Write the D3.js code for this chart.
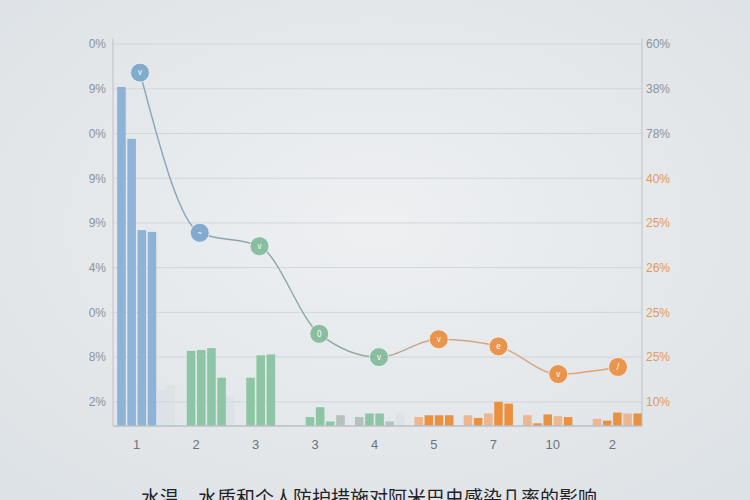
<!DOCTYPE html>
<html>
<head>
<meta charset="utf-8">
<script src="https://cdn.jsdelivr.net/npm/d3@7"></script>
<style>
  html, body { margin: 0; padding: 0; background: #e4e8eb; }
  svg { display: block; font-family: "Noto Sans", "Noto Sans CJK SC", sans-serif; }
</style>
</head>
<body>
<div id="chart"></div>
<script>
// categories along the x axis (labels as printed)
var categories = ["1", "2", "3", "3", "4", "5", "7", "10", "2"];
var categoryHue = ["blue", "green", "green", "green", "green", "orange", "orange", "orange", "orange"];

// y ticks (same positions on both sides), labels top to bottom
var tickValues = [45, 40, 35, 30, 25, 20, 15, 10, 5];
var leftTickLabels = ["0%", "9%", "0%", "9%", "9%", "4%", "0%", "8%", "2%"];
var rightTickLabels = ["60%", "38%", "78%", "40%", "25%", "26%", "25%", "25%", "10%"];

// bars: six slots per category, null = empty slot
var barValues = [
    [null, 40.2, 34.4, 24.2, 24.0, 6.3],
    [6.9, null, 10.7, 10.8, 11.0, 7.7],
    [5.6, null, 7.7, 10.2, 10.3, null],
    [null, null, 3.3, 4.4, 2.8, 3.5],
    [null, 3.3, 3.7, 3.7, 2.8, 3.8],
    [null, 3.3, 3.5, 3.5, 3.5, null],
    [3.5, 3.2, 3.7, 5.0, 4.8, null],
    [3.5, 2.6, 3.6, 3.4, 3.3, null],
    [null, 3.1, 2.9, 3.8, 3.7, 3.7]
];
// tone of each bar: m = main, l = light, g = grey, f = faded
var barTones = [
    ["", "m", "m", "m", "m", "f"],
    ["f", "", "m", "m", "m", "m"],
    ["f", "", "m", "m", "m", ""],
    ["", "", "m", "m", "m", "g"],
    ["", "g", "m", "m", "g", "f"],
    ["", "l", "m", "m", "m", ""],
    ["l", "m", "l", "m", "m", ""],
    ["l", "m", "m", "l", "m", ""],
    ["", "l", "m", "m", "l", "m"]
];

// line (right axis)
var lineValues = [41.8, 23.9, 22.4, 12.6, 10.0, 12.0, 11.2, 8.1, 8.9];
var pointHue = ["blue", "blue", "green", "green", "green", "orange", "orange", "orange", "orange"];
var pointMarks = ["v", "~", "v", "0", "v", "v", "e", "v", "/"];

var title = "水温、水质和个人防护措施对阿米巴虫感染几率的影响";

var width = 750, height = 500;
var plotLeft = 113, plotRight = 642, plotTop = 44, plotBottom = 426;

var palette = {
    blue:   { m: "#8fb3d7", l: "#b7cfe6", g: "#b3c0c9", f: "#d2dce4" },
    green:  { m: "#8dc6a4", l: "#b5dcc4", g: "#b6c0bc", f: "#d3dee0" },
    orange: { m: "#ea9140", l: "#ecb68e", g: "#c9b9ab", f: "#e3d8d0" }
};
var circleColor = { blue: "#7ea8cc", green: "#84bc9c", orange: "#eb9146" };

var svg = d3.select("#chart").append("svg")
    .attr("width", width)
    .attr("height", height);

var defs = svg.append("defs");
var bg = defs.append("radialGradient").attr("id", "bg")
    .attr("cx", "50%").attr("cy", "45%").attr("r", "70%");
bg.append("stop").attr("offset", "0%").attr("stop-color", "#eef0f2");
bg.append("stop").attr("offset", "100%").attr("stop-color", "#dde2e6");

var lineGrad = defs.append("linearGradient").attr("id", "lineGrad")
    .attr("gradientUnits", "userSpaceOnUse")
    .attr("x1", plotLeft).attr("x2", plotRight).attr("y1", 0).attr("y2", 0);
lineGrad.append("stop").attr("offset", "0%").attr("stop-color", "#86a3bb");
lineGrad.append("stop").attr("offset", "45%").attr("stop-color", "#8fa8a0");
lineGrad.append("stop").attr("offset", "58%").attr("stop-color", "#c9a88e");
lineGrad.append("stop").attr("offset", "100%").attr("stop-color", "#eba06a");

svg.append("rect").attr("width", width).attr("height", height).attr("fill", "url(#bg)");

/* Scales */
var y = d3.scaleLinear().domain([2.3, 45]).range([plotBottom, plotTop]);
var yRight = d3.scaleLinear().domain([2.3, 45]).range([plotBottom, plotTop]);

var x = d3.scaleBand().domain(d3.range(categories.length)).range([107, plotRight]).padding(0);
var xSlot = d3.scaleBand().domain(d3.range(6)).range([0, x.bandwidth()]).paddingInner(0.16);
var xLine = d3.scalePoint().domain(d3.range(categories.length)).range([140, 618]);

/* Grid */
svg.append("g").attr("class", "grid")
    .selectAll("line")
    .data(tickValues).enter()
    .append("line")
    .attr("x1", plotLeft).attr("x2", plotRight)
    .attr("y1", d => y(d)).attr("y2", d => y(d))
    .style("stroke", "#d0d6db")
    .style("stroke-width", 1);

/* Bars */
var bars = [];
barValues.forEach((row, i) => {
    row.forEach((v, j) => {
        if (v != null) bars.push({ cat: i, slot: j, value: v, tone: barTones[i][j] });
    });
});

svg.append("g").attr("class", "bars")
    .selectAll("rect")
    .data(bars).enter()
    .append("rect")
    .attr("x", d => x(d.cat) + xSlot(d.slot))
    .attr("y", d => y(d.value))
    .attr("width", xSlot.bandwidth())
    .attr("height", d => y.range()[0] - y(d.value))
    .style("fill", d => palette[categoryHue[d.cat]][d.tone])
    .style("opacity", d => d.tone == "f" ? 0.45 : 1);

/* Axes lines */
svg.append("line").attr("x1", plotLeft).attr("x2", plotLeft).attr("y1", 38).attr("y2", plotBottom)
    .style("stroke", "#bcc3c9");
svg.append("line").attr("x1", plotRight).attr("x2", plotRight).attr("y1", 38).attr("y2", plotBottom)
    .style("stroke", "#bcc3c9");
svg.append("line").attr("x1", plotLeft).attr("x2", plotRight).attr("y1", plotBottom).attr("y2", plotBottom)
    .style("stroke", "#b9c0c6").style("stroke-width", 1.5);

var yAxisLeft = d3.axisLeft(y).tickValues(tickValues)
    .tickFormat((d, i) => leftTickLabels[i]).tickSize(0).tickPadding(7);
var gl = svg.append("g").attr("transform", `translate(${plotLeft},0)`).call(yAxisLeft);
gl.select(".domain").remove();
gl.selectAll("text").style("font-size", "12px").style("fill", "#8b949b");

var yAxisRight = d3.axisRight(yRight).tickValues(tickValues)
    .tickFormat((d, i) => rightTickLabels[i]).tickSize(0).tickPadding(4);
var gr = svg.append("g").attr("transform", `translate(${plotRight},0)`).call(yAxisRight);
gr.select(".domain").remove();
gr.selectAll("text").style("font-size", "12px")
    .style("fill", (d, i) => i < 3 ? "#8b949b" : "#e39a55");

var xAxis = d3.axisBottom(x).tickFormat(i => categories[i]).tickSize(0).tickPadding(14);
var gx = svg.append("g").attr("transform", `translate(0,${plotBottom})`).call(xAxis);
gx.select(".domain").remove();
gx.selectAll("text").style("font-size", "13px").style("fill", "#6d747a");

/* Line */
var line = d3.line()
    .curve(d3.curveMonotoneX)
    .x((d, i) => xLine(i))
    .y(d => yRight(d));

svg.append("path")
    .attr("d", line(lineValues))
    .style("fill", "none")
    .style("stroke", "url(#lineGrad)")
    .style("stroke-width", 1.4);

var pts = svg.append("g").attr("class", "points")
    .selectAll("g")
    .data(lineValues).enter()
    .append("g")
    .attr("transform", (d, i) => `translate(${xLine(i)},${yRight(d)})`);

pts.append("circle")
    .attr("r", 9.5)
    .style("fill", (d, i) => circleColor[pointHue[i]])
    .style("stroke", "#f4f6f7")
    .style("stroke-width", 0.8)
    .style("opacity", 0.95);

pts.append("text")
    .attr("text-anchor", "middle")
    .attr("dy", "0.35em")
    .style("font-size", "8px")
    .style("fill", "#ffffff")
    .text((d, i) => pointMarks[i]);

/* Title */
svg.append("text")
    .attr("x", 369)
    .attr("y", 505)
    .attr("text-anchor", "middle")
    .style("font-family", "'Noto Sans CJK SC', sans-serif")
    .style("font-size", "19px")
    .style("fill", "#1f2326")
    .text(title);
</script>
</body>
</html>
